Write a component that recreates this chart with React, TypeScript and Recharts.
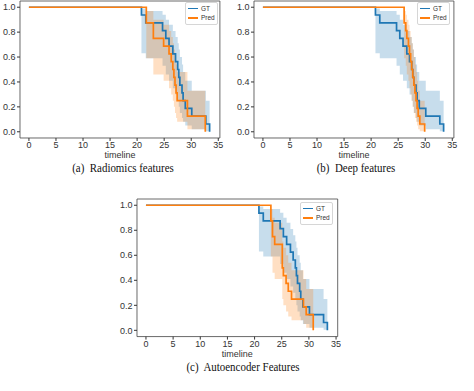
import React from 'react';
import { ComposedChart, Line, Area, XAxis, YAxis, ReferenceArea, Legend } from 'recharts';

// Kaplan-Meier curves: [time, survival, lower CI, upper CI]
type KM = [number, number, number, number][];

// ground truth is the same curve in all three panels
const gtCurve: KM = [
  [0, 1, 1, 1],
  [20.8, 0.9375, 0.63, 0.99],
  [21.6, 0.875, 0.59, 0.97],
  [24.7, 0.8125, 0.53, 0.94],
  [25.3, 0.75, 0.46, 0.9],
  [25.9, 0.6875, 0.41, 0.86],
  [26.6, 0.625, 0.35, 0.81],
  [27.1, 0.5625, 0.3, 0.76],
  [27.5, 0.5, 0.25, 0.71],
  [27.7, 0.4375, 0.2, 0.66],
  [27.9, 0.375, 0.15, 0.6],
  [28.3, 0.3125, 0.11, 0.54],
  [28.5, 0.25, 0.08, 0.48],
  [28.9, 0.1875, 0.05, 0.41],
  [30.1, 0.125, 0.02, 0.33],
  [32.7, 0.0625, 0.004, 0.25],
  [33.4, 0, 0, 0],
];

const radiomicsPred: KM = [
  [0, 1, 1, 1],
  [21.7, 0.875, 0.59, 0.97],
  [23.0, 0.75, 0.46, 0.9],
  [24.9, 0.6875, 0.41, 0.86],
  [25.9, 0.625, 0.35, 0.81],
  [26.3, 0.5625, 0.3, 0.76],
  [26.6, 0.5, 0.25, 0.71],
  [26.8, 0.4375, 0.2, 0.66],
  [27.0, 0.375, 0.15, 0.6],
  [27.2, 0.3125, 0.11, 0.54],
  [27.4, 0.25, 0.08, 0.48],
  [29.3, 0.125, 0.02, 0.33],
  [32.6, 0, 0, 0],
];

const deepPred: KM = [
  [0, 1, 1, 1],
  [26.1, 0.875, 0.59, 0.97],
  [26.4, 0.8125, 0.53, 0.94],
  [26.6, 0.75, 0.46, 0.9],
  [26.9, 0.6875, 0.41, 0.86],
  [27.1, 0.625, 0.35, 0.81],
  [27.3, 0.5625, 0.3, 0.76],
  [27.5, 0.5, 0.25, 0.71],
  [27.7, 0.4375, 0.2, 0.66],
  [27.9, 0.375, 0.15, 0.6],
  [28.1, 0.3125, 0.11, 0.54],
  [28.3, 0.25, 0.08, 0.48],
  [28.5, 0.1875, 0.05, 0.41],
  [28.7, 0.125, 0.02, 0.33],
  [29.0, 0.0625, 0.004, 0.25],
  [29.9, 0, 0, 0],
];

const autoencoderPred: KM = [
  [0, 1, 1, 1],
  [23.0, 0.875, 0.59, 0.97],
  [23.3, 0.75, 0.46, 0.9],
  [23.7, 0.6875, 0.41, 0.86],
  [25.1, 0.5, 0.25, 0.71],
  [25.3, 0.4375, 0.2, 0.66],
  [25.8, 0.375, 0.15, 0.6],
  [26.2, 0.3125, 0.11, 0.54],
  [26.8, 0.25, 0.08, 0.48],
  [29.0, 0.1875, 0.05, 0.41],
  [29.5, 0.125, 0.02, 0.33],
  [30.8, 0, 0, 0],
];

const xTicks = [0, 5, 10, 15, 20, 25, 30, 35];
const yTicks = [0, 0.2, 0.4, 0.6, 0.8, 1.0];
const X_DOMAIN: [number, number] = [-1.65, 35.3];
const Y_DOMAIN: [number, number] = [-0.05, 1.05];

const BLUE = '#1f77b4';
const ORANGE = '#ff7f0e';
const TICK_FONT = { fontSize: 9, fill: '#333', fontFamily: 'Liberation Sans, Arial, sans-serif' };

const toRows = (km: KM) => km.map(([t, s, lo, hi]) => ({ t, s, band: [lo, hi] }));

const YW = 22; // y axis width
const XH = 24; // x axis height (room for the "timeline" label)

const KMLegend = (props: any) => {
  const items = (props.payload || []).filter((p: any) => p.type !== 'none');
  return (
    <div
      style={{
        border: '1px solid #d6d6d6',
        borderRadius: 2,
        background: '#fff',
        padding: '1px 2px 1px 2px',
        fontFamily: 'Liberation Sans, Arial, sans-serif',
        fontSize: 6.5,
        color: '#333',
        lineHeight: '9.5px',
      }}
    >
      {items.map((it: any) => (
        <div key={it.value} style={{ display: 'flex', alignItems: 'center', whiteSpace: 'nowrap' }}>
          <span style={{ display: 'inline-block', width: 10, height: 1.6, background: it.color, marginRight: 3 }} />
          {it.value}
        </div>
      ))}
    </div>
  );
};

interface PanelProps {
  pred: KM;
  plotLeft: number;
  plotRight: number;
  plotTop: number;
  plotBottom: number;
  legendX: number;
  legendY: number;
  caption: string;
  captionX: number;
  captionY: number;
}

const Panel = ({ pred, plotLeft, plotRight, plotTop, plotBottom, legendX, legendY, caption, captionX, captionY }: PanelProps) => {
  const left = plotLeft - YW;
  const top = plotTop - 1;
  const width = plotRight - left + 4;
  const height = plotBottom - top + XH;
  return (
    <>
      <div style={{ position: 'absolute', left, top, width, height }}>
        <ComposedChart width={width} height={height} margin={{ top: 1, right: 4, bottom: 0, left: 0 }}>
          <XAxis
            type="number"
            dataKey="t"
            domain={X_DOMAIN}
            ticks={xTicks}
            allowDataOverflow
            height={XH}
            axisLine={false}
            tickSize={3}
            tickMargin={1}
            tickLine={{ stroke: '#333' }}
            tick={TICK_FONT}
            label={{ value: 'timeline', position: 'insideBottom', offset: 4, ...TICK_FONT }}
          />
          <YAxis
            type="number"
            domain={Y_DOMAIN}
            ticks={yTicks}
            allowDataOverflow
            width={YW}
            axisLine={false}
            tickSize={3}
            tickMargin={1.5}
            tickLine={{ stroke: '#333' }}
            tick={TICK_FONT}
            tickFormatter={(v: number) => v.toFixed(1)}
          />
          <ReferenceArea x1={X_DOMAIN[0]} x2={X_DOMAIN[1]} y1={Y_DOMAIN[0]} y2={Y_DOMAIN[1]} fill="none" fillOpacity={0} stroke="#444" strokeWidth={0.8} />
          <Area
            data={toRows(gtCurve)}
            dataKey="band"
            type="stepAfter"
            fill={BLUE}
            fillOpacity={0.25}
            stroke="none"
            legendType="none"
            isAnimationActive={false}
          />
          <Line
            data={toRows(gtCurve)}
            dataKey="s"
            name="GT"
            type="stepAfter"
            stroke={BLUE}
            strokeWidth={1.7}
            dot={false}
            isAnimationActive={false}
          />
          <Area
            data={toRows(pred)}
            dataKey="band"
            type="stepAfter"
            fill={ORANGE}
            fillOpacity={0.25}
            stroke="none"
            legendType="none"
            isAnimationActive={false}
          />
          <Line
            data={toRows(pred)}
            dataKey="s"
            name="Pred"
            type="stepAfter"
            stroke={ORANGE}
            strokeWidth={1.7}
            dot={false}
            isAnimationActive={false}
          />
          <Legend
            layout="vertical"
            align="center"
            verticalAlign="middle"
            content={KMLegend}
            wrapperStyle={{ left: legendX - left, top: legendY - top, width: 'auto', height: 'auto' }}
          />
        </ComposedChart>
      </div>
      <div
        style={{
          position: 'absolute',
          left: captionX,
          top: captionY - 8,
          lineHeight: '16px',
          fontSize: 13,
          fontFamily: 'Liberation Serif, Times New Roman, serif',
          color: '#111',
          whiteSpace: 'pre',
          transform: 'translateX(-50%) scaleX(0.84)',
        }}
      >
        {caption}
      </div>
    </>
  );
};

export default function App() {
  return (
    <div style={{ position: 'absolute', left: 0, top: 0, width: 474, height: 391, background: '#fff', overflow: 'hidden' }}>
      <Panel
        pred={radiomicsPred}
        plotLeft={20.4}
        plotRight={220.3}
        plotTop={0.5}
        plotBottom={137.5}
        legendX={185}
        legendY={1.7}
        caption="(a)  Radiomics features"
        captionX={122.7}
        captionY={168.3}
      />
      <Panel
        pred={deepPred}
        plotLeft={253.8}
        plotRight={453.7}
        plotTop={0.5}
        plotBottom={137.5}
        legendX={417}
        legendY={1.7}
        caption="(b)  Deep features"
        captionX={356}
        captionY={168.3}
      />
      <Panel
        pred={autoencoderPred}
        plotLeft={136.8}
        plotRight={337.5}
        plotTop={198.8}
        plotBottom={336.4}
        legendX={300}
        legendY={201.7}
        caption="(c)  Autoencoder Features"
        captionX={243}
        captionY={366.7}
      />
    </div>
  );
}
